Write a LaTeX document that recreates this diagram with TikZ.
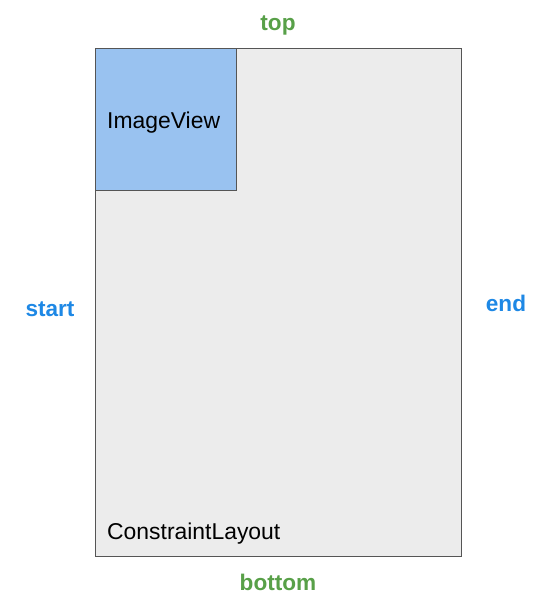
\documentclass[tikz,border=0pt]{standalone}
\usepackage{fontspec}
\setmainfont{Liberation Sans}
\definecolor{lblgreen}{RGB}{88,160,72}
\definecolor{lblblue}{RGB}{30,136,229}
\definecolor{ivfill}{RGB}{153,194,240}
\definecolor{clfill}{RGB}{236,236,236}
\definecolor{edge}{RGB}{85,85,85}
\begin{document}
\begin{tikzpicture}[x=1pt,y=-1pt,
  box/.style={draw=edge,line width=1.2pt,inner sep=0pt,anchor=north west},
  side/.style={font=\fontsize{22.6}{26}\selectfont\bfseries},
  txt/.style={font=\fontsize{22.9}{27}\selectfont,inner sep=0pt,anchor=west}]
\useasboundingbox (0,0) rectangle (552,615);
\node[box,fill=clfill,minimum width=366pt,minimum height=508pt] (cl) at (95,48) {};
\node[box,fill=ivfill,minimum width=141pt,minimum height=142pt] (iv) at (95,48) {};
\node[txt] (ivt) at (107,123) {ImageView};
\node[txt] (clt) at (107,534) {ConstraintLayout};
\node[side,text=lblgreen] (top) at (278,25) {top};
\node[side,text=lblgreen] (bottom) at (278,582) {bottom};
\node[side,text=lblblue] (start) at (50,309) {start};
\node[side,text=lblblue] (end) at (506,303) {end};
\end{tikzpicture}
\end{document}
